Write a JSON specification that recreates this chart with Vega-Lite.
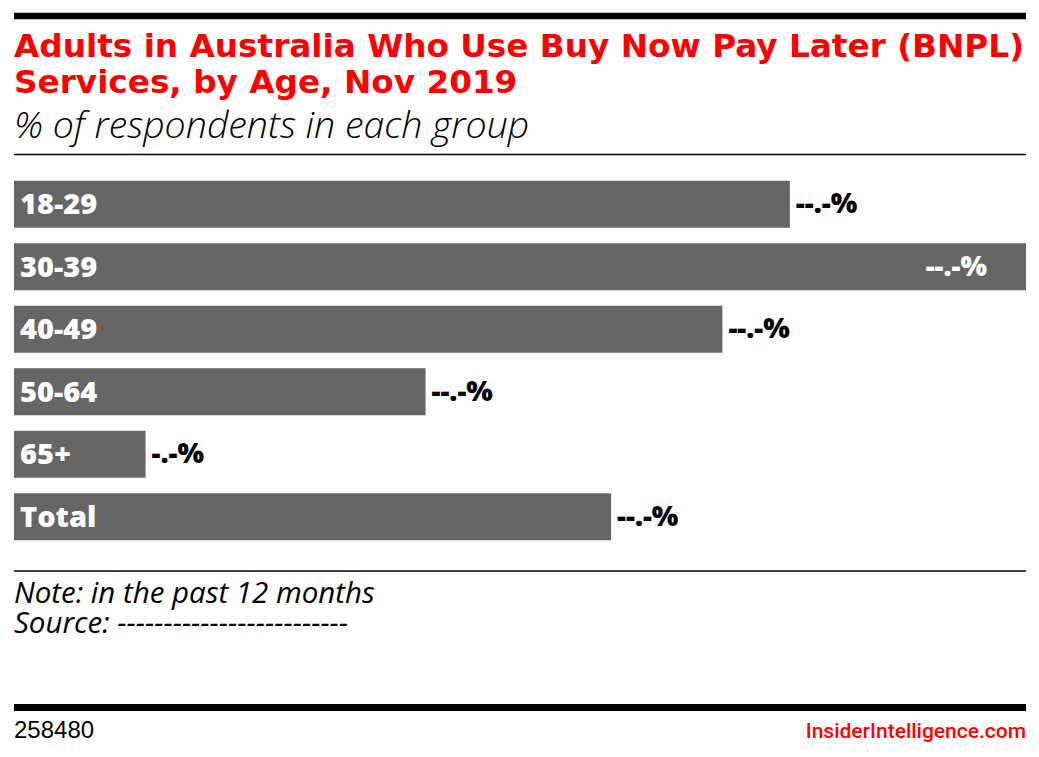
{
  "$schema": "https://vega.github.io/schema/vega-lite/v6.json",
  "width": 1012,
  "height": 375,
  "autosize": {"type": "none"},
  "padding": {"left": 14, "top": 173, "right": 13, "bottom": 209},
  "background": "white",
  "datasets": {
    "bnpl": [
      {"age": "18-29", "pct": 23.0, "label": "--.-%"},
      {"age": "30-39", "pct": 30.0, "label": "--.-%"},
      {"age": "40-49", "pct": 21.0, "label": "--.-%"},
      {"age": "50-64", "pct": 12.2, "label": "--.-%"},
      {"age": "65+", "pct": 3.9, "label": "-.-%"},
      {"age": "Total", "pct": 17.7, "label": "--.-%"}
    ]
  },
  "layer": [
    {
      "data": {"name": "bnpl"},
      "mark": {"type": "bar", "color": "#666666"},
      "encoding": {
        "y": {
          "field": "age",
          "type": "nominal",
          "sort": null,
          "axis": null,
          "scale": {"paddingInner": 0.25, "paddingOuter": 0.125}
        },
        "x": {
          "field": "pct",
          "type": "quantitative",
          "axis": null,
          "scale": {"domain": [0, 30], "nice": false}
        }
      }
    },
    {
      "data": {"name": "bnpl"},
      "mark": {"type": "text", "align": "left", "baseline": "middle", "dx": 6, "dy": 1, "color": "white", "font": "Open Sans", "fontWeight": 800, "fontSize": 29},
      "encoding": {
        "y": {"field": "age", "type": "nominal", "sort": null},
        "x": {"datum": 0, "type": "quantitative"},
        "text": {"field": "age"}
      }
    },
    {
      "data": {"name": "bnpl"},
      "transform": [{"filter": "datum.pct < 29"}],
      "mark": {"type": "text", "align": "left", "baseline": "middle", "dx": 6, "dy": 1, "color": "black", "font": "Open Sans", "fontWeight": 800, "fontSize": 28},
      "encoding": {
        "y": {"field": "age", "type": "nominal", "sort": null},
        "x": {"field": "pct", "type": "quantitative"},
        "text": {"field": "label"}
      }
    },
    {
      "data": {"name": "bnpl"},
      "transform": [{"filter": "datum.pct >= 29"}],
      "mark": {"type": "text", "align": "right", "baseline": "middle", "dx": -39, "dy": 1, "color": "white", "font": "Open Sans", "fontWeight": 800, "fontSize": 28},
      "encoding": {
        "y": {"field": "age", "type": "nominal", "sort": null},
        "x": {"field": "pct", "type": "quantitative"},
        "text": {"field": "label"}
      }
    },
    {
      "data": {"values": [{"text": "Adults in Australia Who Use Buy Now Pay Later (BNPL)"}]},
      "mark": {"type": "text", "align": "left", "baseline": "alphabetic", "font": "DejaVu Sans", "fontWeight": "bold", "fontSize": 32.7, "color": "#ff0000"},
      "encoding": {"x": {"value": 0}, "y": {"value": -116}, "text": {"field": "text"}}
    },
    {
      "data": {"values": [{"text": "Services, by Age, Nov 2019"}]},
      "mark": {"type": "text", "align": "left", "baseline": "alphabetic", "font": "DejaVu Sans", "fontWeight": "bold", "fontSize": 32.7, "color": "#ff0000"},
      "encoding": {"x": {"value": 0}, "y": {"value": -80}, "text": {"field": "text"}}
    },
    {
      "data": {"values": [{"text": "% of respondents in each group"}]},
      "mark": {"type": "text", "align": "left", "baseline": "alphabetic", "font": "Open Sans", "fontStyle": "italic", "fontWeight": 300, "fontSize": 37.5, "color": "black"},
      "encoding": {"x": {"value": 0}, "y": {"value": -35}, "text": {"field": "text"}}
    },
    {
      "data": {"values": [{}]},
      "mark": {"type": "rule", "color": "black", "strokeWidth": 6.5},
      "encoding": {"x": {"value": 0}, "x2": {"value": 1012}, "y": {"value": -157}}
    },
    {
      "data": {"values": [{}]},
      "mark": {"type": "rule", "color": "black", "strokeWidth": 1.5},
      "encoding": {"x": {"value": 0}, "x2": {"value": 1012}, "y": {"value": -18.5}}
    },
    {
      "data": {"values": [{}]},
      "mark": {"type": "rule", "color": "black", "strokeWidth": 1.5},
      "encoding": {"x": {"value": 0}, "x2": {"value": 1012}, "y": {"value": 398}}
    },
    {
      "data": {"values": [{}]},
      "mark": {"type": "rule", "color": "black", "strokeWidth": 7},
      "encoding": {"x": {"value": 0}, "x2": {"value": 1012}, "y": {"value": 534.5}}
    },
    {
      "data": {"values": [{"text": "Note: in the past 12 months"}]},
      "mark": {"type": "text", "align": "left", "baseline": "alphabetic", "font": "Open Sans", "fontStyle": "italic", "fontSize": 29.5, "color": "black"},
      "encoding": {"x": {"value": 0}, "y": {"value": 430}, "text": {"field": "text"}}
    },
    {
      "data": {"values": [{"text": "Source: -------------------------"}]},
      "mark": {"type": "text", "align": "left", "baseline": "alphabetic", "font": "Open Sans", "fontStyle": "italic", "fontSize": 29.5, "color": "black"},
      "encoding": {"x": {"value": 0}, "y": {"value": 460}, "text": {"field": "text"}}
    },
    {
      "data": {"values": [{"text": "258480"}]},
      "mark": {"type": "text", "align": "left", "baseline": "alphabetic", "font": "Liberation Sans", "fontSize": 24, "color": "black"},
      "encoding": {"x": {"value": 0}, "y": {"value": 565}, "text": {"field": "text"}}
    },
    {
      "data": {"values": [{"text": "InsiderIntelligence.com"}]},
      "mark": {"type": "text", "align": "right", "baseline": "alphabetic", "font": "Roboto", "fontWeight": 500, "fontSize": 21, "color": "#ff0000"},
      "encoding": {"x": {"value": 1012}, "y": {"value": 565}, "text": {"field": "text"}}
    }
  ],
  "config": {"view": {"stroke": null}}
}
